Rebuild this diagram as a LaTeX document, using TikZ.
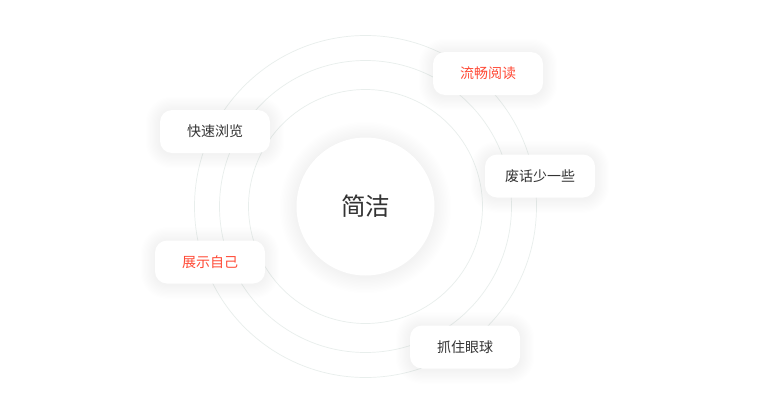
\documentclass[tikz,border=0pt]{standalone}
\usepackage{fontspec}
\setmainfont{Noto Sans CJK SC}
\definecolor{ringgray}{HTML}{E8EEEC}
\definecolor{textgray}{HTML}{333333}
\definecolor{accentred}{HTML}{FF4A36}
\definecolor{halo}{HTML}{3A4A6A}
\tikzset{every node/.style={inner sep=0pt, outer sep=0pt}}
\tikzset{tagbox/.style={rectangle,rounded corners=12pt,fill=white,minimum width=110pt,minimum height=43pt,font=\fontsize{14pt}{16pt}\selectfont,text=textgray}}
\tikzset{ring/.style={draw=ringgray,line width=0.7pt}}
\tikzset{haloring/.style={fill=halo,opacity=0.0035}}

\begin{document}
\begin{tikzpicture}[x=1pt,y=-1pt]
    \useasboundingbox[fill=white] (0,0) rectangle (760,410);

    \draw[ring] (365.5,206.5) circle (117);
    \draw[ring] (365.5,206.5) circle (146);
    \draw[ring] (365.5,206.5) circle (171);

    % soft halos
    \foreach \g in {1,...,12} {
      \fill[haloring] (365.5,207.5) circle (69+1.4*\g);
      \foreach \px/\py in {488/73.5, 215/131.5, 540/176, 210/262, 465/347}
        \fill[haloring,rounded corners=12+1.2*\g] (\px-55-1.2*\g,\py-21.5-1.2*\g+1) rectangle (\px+55+1.2*\g,\py+21.5+1.2*\g+1);
    }

    \node[circle,fill=white,minimum size=138pt] (CenterCircle) at (365.5,206.5) {};
    \node[font=\fontsize{24.5pt}{28pt}\selectfont,text=textgray] (Center) at (CenterCircle) {简洁};

    \node[tagbox,text=accentred] (Read) at (488,73.5) {流畅阅读};
    \node[tagbox] (Browse) at (215,131.5) {快速浏览};
    \node[tagbox] (Concise) at (540,176) {废话少一些};
    \node[tagbox,text=accentred] (Show) at (210,262) {展示自己};
    \node[tagbox] (Catch) at (465,347) {抓住眼球};

\end{tikzpicture}
\end{document}
